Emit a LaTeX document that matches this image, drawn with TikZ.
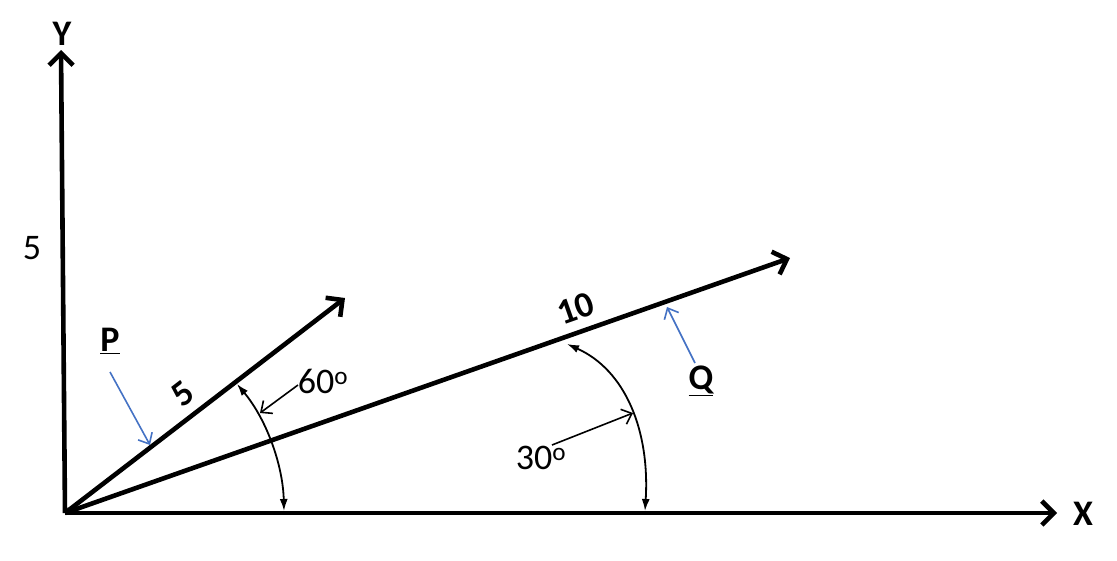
\documentclass[tikz,border=0pt]{standalone}
\usepackage{fontspec}
\setmainfont{Carlito}
\usetikzlibrary{arrows.meta}
\begin{document}
\begin{tikzpicture}[x=1pt,y=-1pt,font=\fontsize{36}{42}\selectfont,
  vec/.style={line width=4.6pt,-{Straight Barb[length=12pt,width=24pt]}},
  angarc/.style={line width=1.8pt,{Latex[length=12pt,width=8pt]}-{Latex[length=12pt,width=8pt]}},
  pointer/.style={line width=1.6pt,-{Straight Barb[length=9pt,width=16pt]}}]
\definecolor{qblue}{RGB}{68,114,196}
\useasboundingbox (0,0) rectangle (1117,560);
\coordinate (O) at (65,513);
\coordinate (Ytip) at (61,50);
\coordinate (Xtip) at (1057,513);
\coordinate (A) at (345,298);
\coordinate (B) at (790,258);
\draw [vec] (O) -- (Ytip);
\draw [vec] (O) -- (Xtip);
\draw [vec] (O) -- (A);
\draw [vec] (O) -- (B);
\node (ylab) at (62,34) {\textbf{Y}};
\node (xlab) at (1083,514) {\textbf{X}};
\node (five) at (32,248) {5};
\node [rotate=37.5, inner sep=0pt] (alab) at (183,394) {\textbf{5}};
\node [rotate=19.4, inner sep=0pt] (blab) at (576,308) {\textbf{10}};
\node (plab) at (110,341) {\textbf{\underline{P}}};
\node (qlab) at (701,381) {\textbf{\underline{Q}}};
\node (sixty) at (323,381) {60\textsuperscript{o}};
\node (thirty) at (541,458) {30\textsuperscript{o}};
% angle arcs
\draw [angarc] (237,384) .. controls (267,420) and (283,466) .. (284,511);
\draw [angarc] (567,344) .. controls (625,370) and (650,430) .. (645,511);
% pointers
\coordinate (p1) at (110,372);
\coordinate (p2) at (150,445);
\coordinate (q1) at (695,363);
\coordinate (q2) at (667,307);
\coordinate (s1) at (298,385);
\coordinate (s2) at (260,413);
\coordinate (t1) at (552,445);
\coordinate (t2) at (633,413);
\draw [pointer, qblue] (p1) -- (p2);
\draw [pointer, qblue] (q1) -- (q2);
\draw [pointer] (s1) -- (s2);
\draw [pointer] (t1) -- (t2);
\end{tikzpicture}
\end{document}
